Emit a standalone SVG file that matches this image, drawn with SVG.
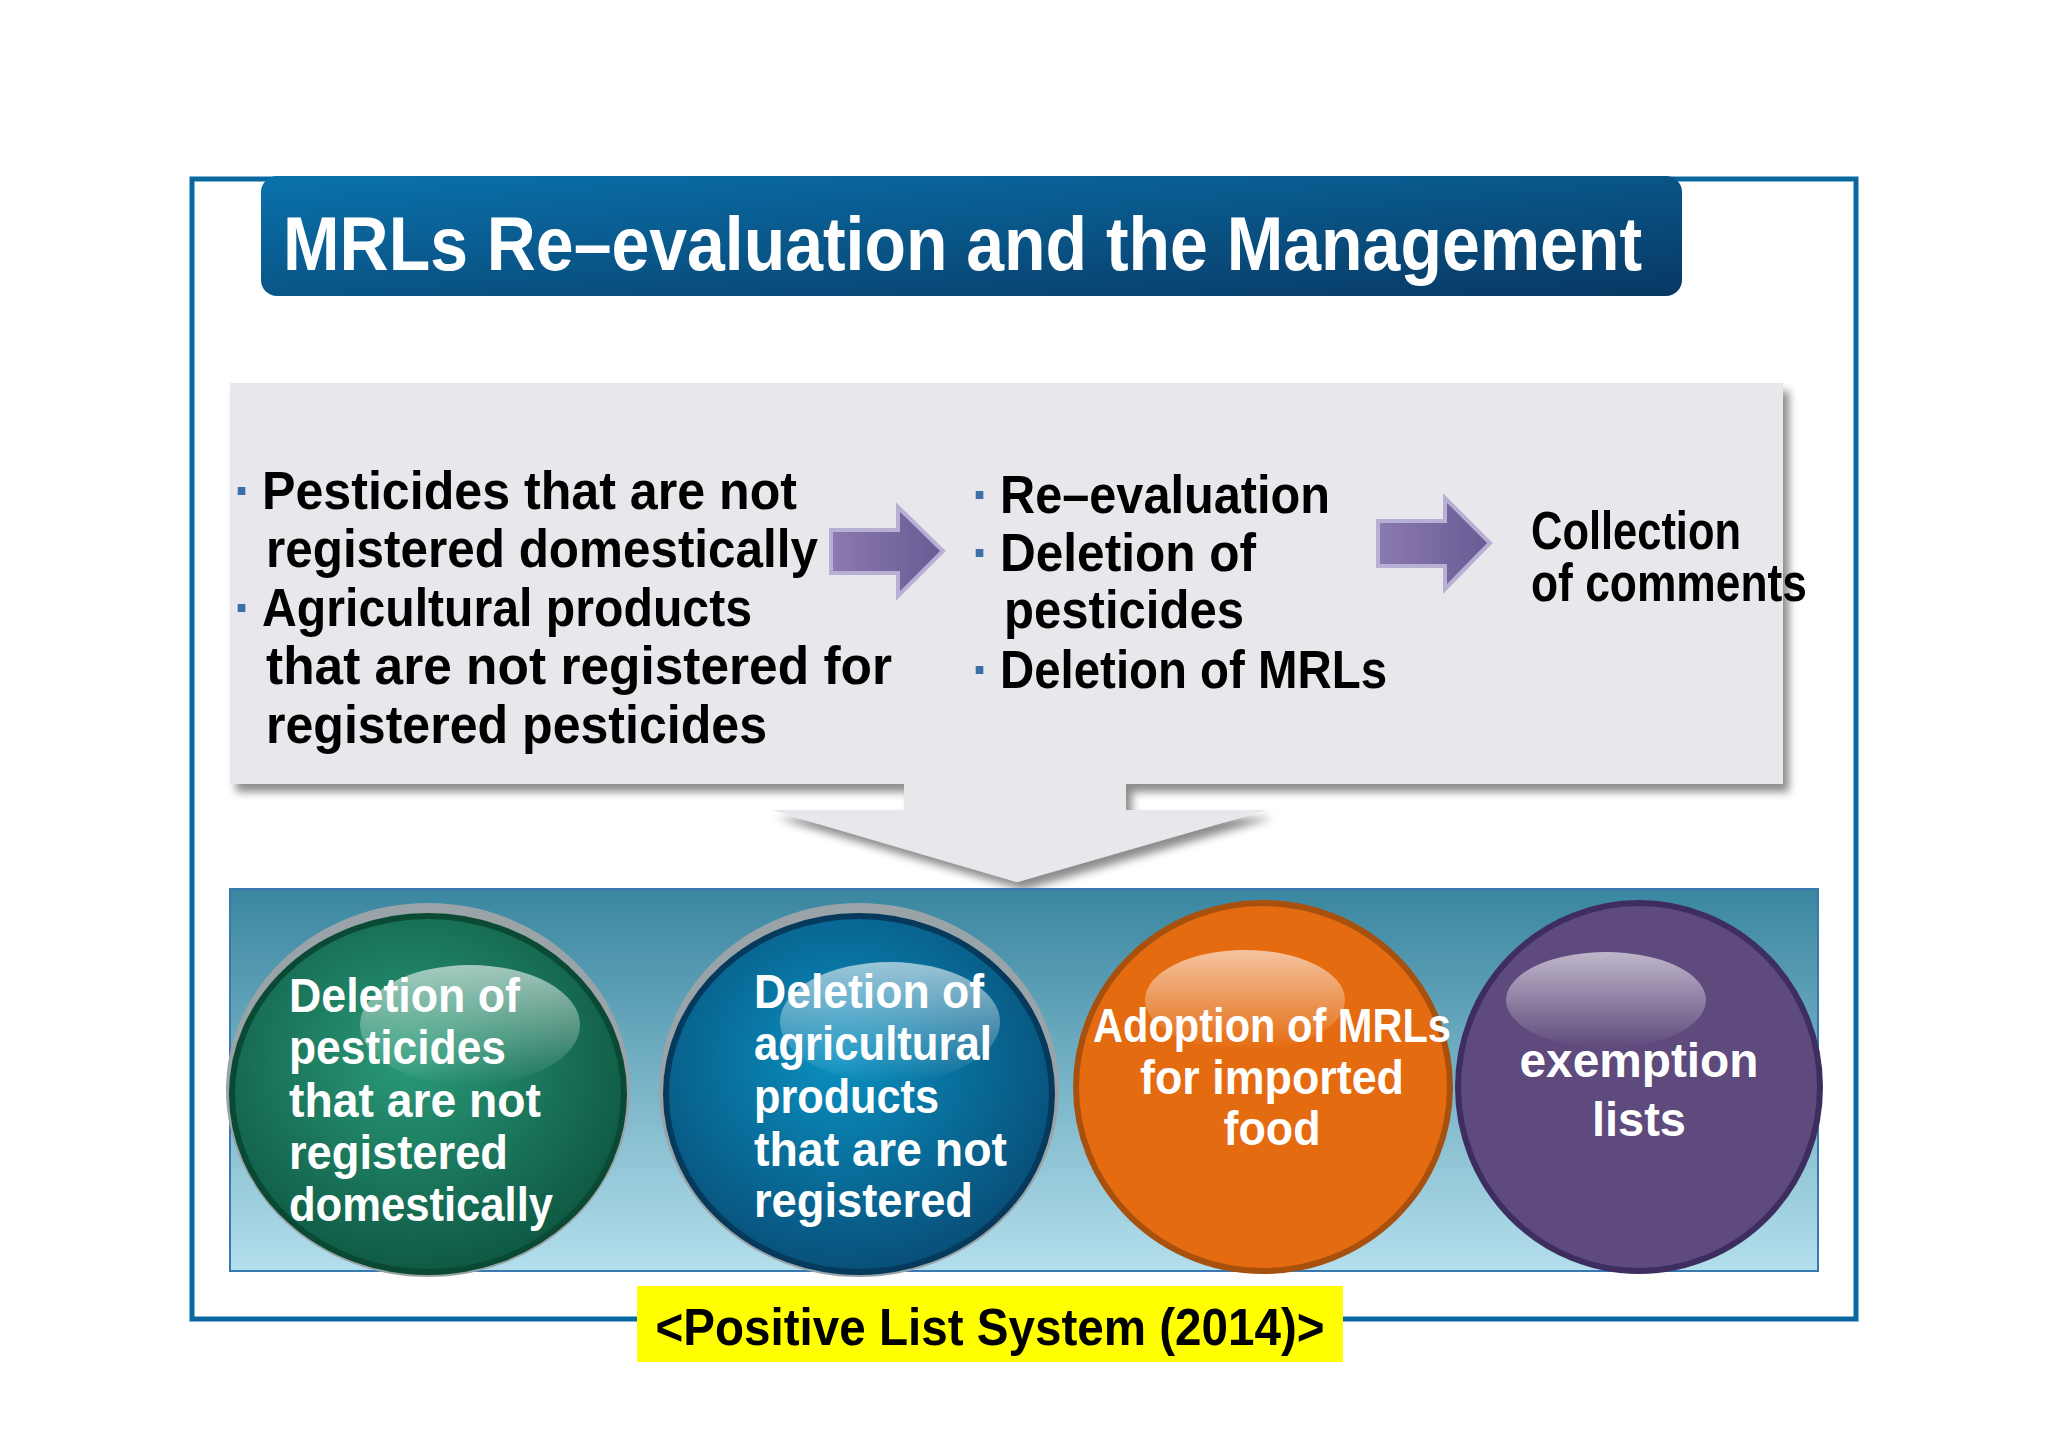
<svg xmlns="http://www.w3.org/2000/svg" width="2048" height="1449" viewBox="0 0 2048 1449">
<defs>
<linearGradient id="tg" x1="0" y1="0" x2="1" y2="1"><stop offset="0" stop-color="#0a72ac"/><stop offset="1" stop-color="#083863"/></linearGradient>
<linearGradient id="bg" x1="0" y1="0" x2="0" y2="1"><stop offset="0" stop-color="#3a86a0"/><stop offset="1" stop-color="#b4dfec"/></linearGradient>
<radialGradient id="g1" cx="0.45" cy="0.4" r="0.6"><stop offset="0" stop-color="#2a9a78"/><stop offset="1" stop-color="#0f5a44"/></radialGradient>
<radialGradient id="g2" cx="0.45" cy="0.4" r="0.6"><stop offset="0" stop-color="#0a90c0"/><stop offset="1" stop-color="#08507a"/></radialGradient>
<linearGradient id="hl" x1="0" y1="0" x2="0" y2="1"><stop offset="0" stop-color="#fff" stop-opacity="0.6"/><stop offset="1" stop-color="#fff" stop-opacity="0"/></linearGradient>
<linearGradient id="ag" x1="0" y1="0" x2="1" y2="0"><stop offset="0" stop-color="#8a7ab0"/><stop offset="1" stop-color="#6a5a94"/></linearGradient>
<filter id="sh" x="-5%" y="-5%" width="115%" height="125%"><feDropShadow dx="6" dy="8" stdDeviation="4" flood-color="#000" flood-opacity="0.45"/></filter>
</defs>
<style>
text{font-family:"Liberation Sans",Arial,sans-serif;font-weight:bold}
.p{font-size:54px;fill:#000}
.c{font-size:48px;fill:#fff}
.b{font-size:54px;fill:#3a6ea8}
</style>
<rect width="2048" height="1449" fill="#fff"/>
<rect x="192" y="179" width="1664" height="1140" fill="none" stroke="#0a68a0" stroke-width="5"/>
<g id="title">
<rect x="261" y="176" width="1421" height="120" rx="16" fill="url(#tg)"/>
<text x="283" y="270" font-size="76" fill="#fff" textLength="1359" lengthAdjust="spacingAndGlyphs">MRLs Re–evaluation and the Management</text>
</g>
<g id="panel">
<path d="M230 383 H1783 V784 H1126 V810 H1267 L1017 882 L771 810 H904 V784 H230 Z" fill="#e8e8ec" filter="url(#sh)"/>
</g>
<g id="left">
<text class="b" x="234" y="509">·</text>
<text class="p" x="262" y="509" textLength="535" lengthAdjust="spacingAndGlyphs">Pesticides that are not</text>
<text class="p" x="266" y="567" textLength="552" lengthAdjust="spacingAndGlyphs">registered domestically</text>
<text class="b" x="234" y="626">·</text>
<text class="p" x="262" y="626" textLength="490" lengthAdjust="spacingAndGlyphs">Agricultural products</text>
<text class="p" x="266" y="684" textLength="626" lengthAdjust="spacingAndGlyphs">that are not registered for</text>
<text class="p" x="266" y="743" textLength="501" lengthAdjust="spacingAndGlyphs">registered pesticides</text>
</g>
<g id="middle">
<text class="b" x="972" y="513">·</text>
<text class="p" x="1000" y="513" textLength="330" lengthAdjust="spacingAndGlyphs">Re–evaluation</text>
<text class="b" x="972" y="571">·</text>
<text class="p" x="1000" y="571" textLength="256" lengthAdjust="spacingAndGlyphs">Deletion of</text>
<text class="p" x="1004" y="628" textLength="240" lengthAdjust="spacingAndGlyphs">pesticides</text>
<text class="b" x="972" y="688">·</text>
<text class="p" x="1000" y="688" textLength="387" lengthAdjust="spacingAndGlyphs">Deletion of MRLs</text>
</g>
<g id="right">
<text class="p" x="1531" y="549" font-size="50" textLength="210" lengthAdjust="spacingAndGlyphs">Collection</text>
<text class="p" x="1531" y="601" font-size="50" textLength="276" lengthAdjust="spacingAndGlyphs">of comments</text>
</g>
<g id="connectors">
<path d="M831 530 H898 V507 L943 551 L898 596 V573 H831 Z" fill="url(#ag)" stroke="#b8b0d4" stroke-width="4"/>
<path d="M1378 521 H1445 V498 L1490 543 L1445 589 V566 H1378 Z" fill="url(#ag)" stroke="#b8b0d4" stroke-width="4"/>
</g>
<rect x="230" y="889" width="1588" height="382" fill="url(#bg)" stroke="#3a78b0" stroke-width="2"/>
<g id="c1">
<ellipse cx="428" cy="1090" rx="202" ry="187" fill="#9aa4a8"/>
<ellipse cx="428" cy="1094" rx="196" ry="178" fill="url(#g1)" stroke="#0a4a34" stroke-width="6"/>
<ellipse cx="470" cy="1025" rx="110" ry="60" fill="url(#hl)"/>
<text class="c" x="289" y="1012" textLength="231" lengthAdjust="spacingAndGlyphs">Deletion of</text>
<text class="c" x="289" y="1064" textLength="217" lengthAdjust="spacingAndGlyphs">pesticides</text>
<text class="c" x="289" y="1117" textLength="252" lengthAdjust="spacingAndGlyphs">that are not</text>
<text class="c" x="289" y="1169" textLength="219" lengthAdjust="spacingAndGlyphs">registered</text>
<text class="c" x="289" y="1221" textLength="264" lengthAdjust="spacingAndGlyphs">domestically</text>
</g>
<g id="c2">
<ellipse cx="859" cy="1090" rx="200" ry="187" fill="#9aa4a8"/>
<ellipse cx="859" cy="1094" rx="193" ry="178" fill="url(#g2)" stroke="#063a5c" stroke-width="6"/>
<ellipse cx="890" cy="1022" rx="110" ry="60" fill="url(#hl)"/>
<text class="c" x="754" y="1008" textLength="230" lengthAdjust="spacingAndGlyphs">Deletion of</text>
<text class="c" x="754" y="1060" textLength="238" lengthAdjust="spacingAndGlyphs">agricultural</text>
<text class="c" x="754" y="1113" textLength="185" lengthAdjust="spacingAndGlyphs">products</text>
<text class="c" x="754" y="1166" textLength="253" lengthAdjust="spacingAndGlyphs">that are not</text>
<text class="c" x="754" y="1217" textLength="219" lengthAdjust="spacingAndGlyphs">registered</text>
</g>
<g id="c3">
<ellipse cx="1263" cy="1087" rx="187" ry="184" fill="#e46b10" stroke="#a8500e" stroke-width="6"/>
<ellipse cx="1245" cy="1000" rx="100" ry="50" fill="url(#hl)"/>
<text class="c" x="1272" y="1042" text-anchor="middle" textLength="358" lengthAdjust="spacingAndGlyphs">Adoption of MRLs</text>
<text class="c" x="1272" y="1094" text-anchor="middle" textLength="264" lengthAdjust="spacingAndGlyphs">for imported</text>
<text class="c" x="1272" y="1145" text-anchor="middle" textLength="97" lengthAdjust="spacingAndGlyphs">food</text>
</g>
<g id="c4">
<ellipse cx="1639" cy="1087" rx="181" ry="184" fill="#5e4a7c" stroke="#3e2e60" stroke-width="6"/>
<ellipse cx="1606" cy="1000" rx="100" ry="48" fill="url(#hl)"/>
<text class="c" x="1639" y="1077" font-size="58" text-anchor="middle" textLength="239" lengthAdjust="spacingAndGlyphs">exemption</text>
<text class="c" x="1639" y="1136" font-size="58" text-anchor="middle" textLength="94" lengthAdjust="spacingAndGlyphs">lists</text>
</g>
<g id="label">
<rect x="637" y="1286" width="706" height="76" fill="#ffff00"/>
<text x="990" y="1345" font-size="52" text-anchor="middle" fill="#000" textLength="669" lengthAdjust="spacingAndGlyphs">&lt;Positive  List  System  (2014)&gt;</text>
</g>
</svg>
